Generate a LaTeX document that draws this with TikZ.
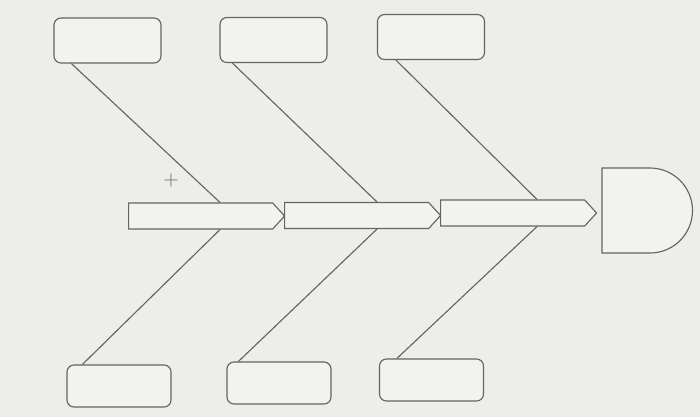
\documentclass[tikz,border=0pt]{standalone}
\usepackage{xcolor}
\usepackage{tikz}
\usetikzlibrary{shapes, arrows, positioning, calc}

\definecolor{paper}{RGB}{237,237,234}
\definecolor{ink}{RGB}{100,100,98}

\begin{document}
\begin{tikzpicture}[x=0.025cm, y=-0.025cm, line width=0.8pt,
    cause/.style={draw=ink, fill=paper!75!white, rounded corners=5pt, minimum width=2.675cm, minimum height=1.125cm, inner sep=0pt},
    effect/.style={draw=ink, fill=paper!75!white, rounded corners=5pt, minimum width=2.6cm, minimum height=1.05cm, inner sep=0pt},
    spine/.style={draw=ink, fill=paper!75!white, shape=signal, signal to=east, signal pointer angle=95, minimum width=3.9cm, minimum height=0.65cm, inner sep=0pt, anchor=west},
    bone/.style={draw=ink}]
    % Background
    \fill[paper] (0,0) rectangle (700,417);
    \useasboundingbox (0,0) rectangle (700,417);

    % Nodes
    \node[cause] (t1) at (107.5,40.5) {};
    \node[cause] (t2) at (273.5,40) {};
    \node[cause] (t3) at (431,37) {};
    \node[effect] (b1) at (119,386) {};
    \node[effect] (b2) at (279,383) {};
    \node[effect] (b3) at (431.5,380) {};

    \node[spine] (s1) at (128,216) {};
    \node[spine] (s2) at (284,215.5) {};
    \node[spine] (s3) at (440,213) {};

    \node[text=ink, font=\Large] (cursor) at (171,180) {+};

    % Joints on the spine
    \coordinate (j1) at (220,0);
    \coordinate (j2) at (377,0);
    \coordinate (j3) at (537,0);

    % Bones
    \draw[bone] ($(t1.south west)+(18,0)$) -- (j1 |- s1.north);
    \draw[bone] ($(t2.south west)+(13,0)$) -- (j2 |- s2.north);
    \draw[bone] ($(t3.south west)+(19,0)$) -- (j3 |- s3.north);
    \draw[bone] (j1 |- s1.south) -- ($(b1.north west)+(16,0)$);
    \draw[bone] (j2 |- s2.south) -- ($(b2.north west)+(12,0)$);
    \draw[bone] (j3 |- s3.south) -- ($(b3.north west)+(18,0)$);

    % Head
    \coordinate (head) at (602,168);
    \draw[bone, fill=paper!75!white] (head) -- ++(48,0) arc[start angle=-90, end angle=90, radius=42.5] -- ++(-48,0) -- cycle;
\end{tikzpicture}
\end{document}
